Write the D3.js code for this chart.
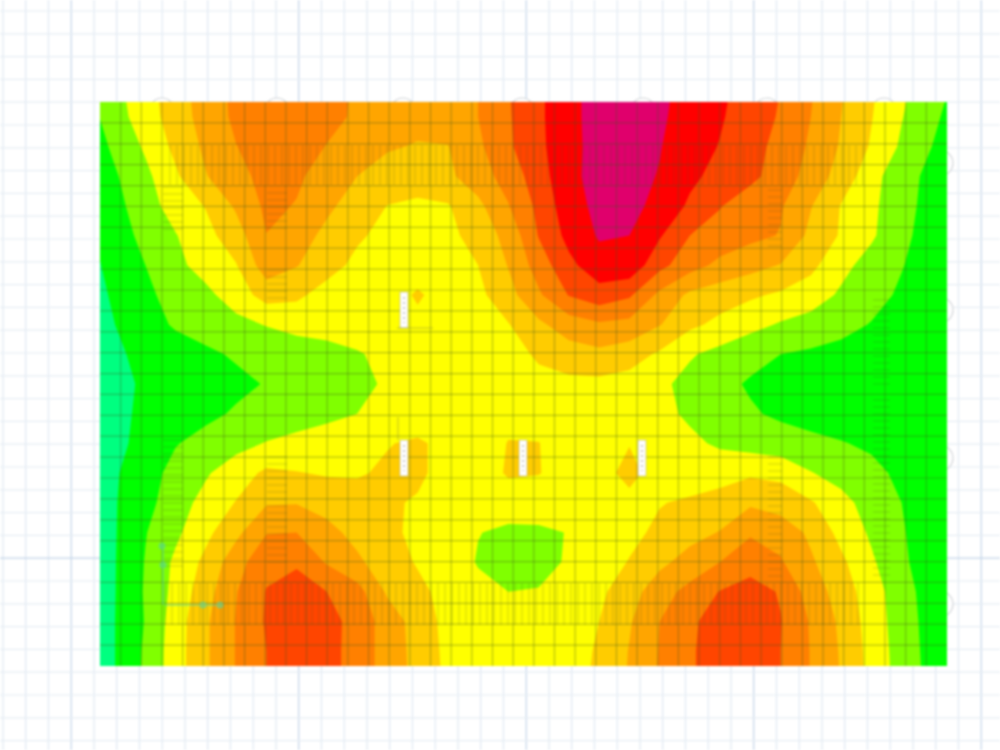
<!DOCTYPE html>
<html>
<head>
<meta charset="utf-8">
<script src="https://cdn.jsdelivr.net/npm/d3@7"></script>
<style>
html,body{margin:0;padding:0;background:#fff;}
svg{display:block;filter:blur(0.9px);}
</style>
</head>
<body>
<svg id="chart" width="1000" height="750"></svg>
<script>
// Stress values. Columns run across the plate, rows run down it.
const row00=[2.3,2.75,3.6,4.6,5.45,6.25,6.65,6.75,6.45,5.85,5.5,5.3,5.5,6.0,6.95,7.8,8.75,9.35,9.55,9.2,8.7,8.2,7.6,7.0,6.1,5.1,4.15,3.2,2.4,1.7];
const row01=[1.45,2.6,3.5,4.5,5.4,6.2,6.6,6.7,6.4,5.8,5.5,5.3,5.5,6.0,6.9,7.8,8.75,9.35,9.5,9.15,8.6,8.1,7.5,6.9,6.0,5.0,4.05,3.05,2.2,1.5];
const row02=[1.3,2.2,3.15,4.25,5.2,5.98,6.4,6.6,5.95,5.5,5.1,4.93,4.97,5.8,6.85,7.75,8.75,9.3,9.4,9.05,8.45,7.95,7.35,6.7,5.85,4.9,3.9,2.85,2.0,1.4];
const row03=[1.1,1.9,2.75,3.85,4.95,5.7,6.3,6.15,5.6,5.0,4.6,4.4,4.8,5.55,6.4,7.55,8.75,9.35,9.3,8.95,8.2,7.7,7.25,6.55,5.6,4.6,3.4,2.3,1.8,1.35];
const row04=[1.1,1.7,2.55,3.45,4.05,5.15,6.2,5.95,5.2,4.55,3.98,3.85,3.92,4.75,5.95,7.25,8.6,9.25,9.35,8.65,7.85,7.05,6.45,6.1,5.05,3.95,3.2,2.4,1.6,1.35];
const row05=[0.8,1.5,2.3,2.95,3.7,4.55,5.98,5.45,4.75,4.15,3.7,3.35,3.7,4.45,5.3,7.05,8.3,9.1,9.0,8.1,7.0,6.6,6.25,5.95,4.75,3.9,3.15,2.25,1.55,1.3];
const row06=[0.65,1.3,2.0,2.75,3.4,3.95,5.55,5.05,4.4,3.75,3.4,3.2,3.5,4.0,5.05,6.45,7.75,8.6,8.7,7.3,6.4,5.75,5.35,4.95,4.25,3.3,2.6,2.05,1.5,1.3];
const row07=[0.5,1.15,1.8,2.35,2.75,3.5,4.4,4.2,3.6,3.35,3.2,4.2,3.3,3.75,4.65,5.85,7.05,7.6,7.15,5.75,4.8,4.45,4.15,3.85,3.5,2.85,2.35,1.85,1.45,1.3];
const row08=[0.4,1.0,1.65,2.1,2.35,2.7,3.05,3.3,3.35,3.3,3.2,3.6,3.2,3.4,3.95,4.8,5.5,5.85,5.7,5.05,4.2,3.75,3.3,2.9,2.6,2.3,1.95,1.75,1.5,1.3];
const row09=[0.3,0.85,1.25,1.6,1.85,2.1,2.3,2.5,2.7,2.95,3.15,3.15,3.15,3.3,3.6,4.15,4.55,4.75,4.45,3.85,3.1,2.7,2.3,2.0,1.85,1.7,1.55,1.45,1.4,1.3];
const row10=[0.2,0.7,1.15,1.4,1.6,1.8,2.05,2.3,2.55,2.8,3.1,3.3,3.45,3.5,3.6,3.7,3.75,3.75,3.6,3.2,2.7,2.25,1.9,1.7,1.5,1.4,1.35,1.3,1.3,1.3];
const row11=[0.3,0.75,1.2,1.5,1.8,2.1,2.35,2.6,2.8,3.0,3.2,3.4,3.55,3.6,3.65,3.65,3.65,3.6,3.5,3.25,2.85,2.45,2.1,1.85,1.7,1.55,1.4,1.3,1.3,1.3];
const row12=[0.35,0.8,1.25,1.95,2.3,2.7,3.05,3.25,3.4,3.55,3.95,4.15,3.7,3.3,4.05,4.02,3.6,3.5,3.95,3.5,3.2,2.85,2.6,2.4,2.2,2.05,1.85,1.4,1.3,1.3];
const row13=[0.6,0.9,1.6,2.3,2.9,3.5,4.2,4.05,3.9,3.9,4.15,4.3,3.4,3.3,4.15,4.05,3.5,3.5,4.4,3.4,3.45,3.6,3.85,3.75,3.05,2.6,2.25,1.8,1.3,1.3];
const row14=[0.7,0.95,1.65,2.6,3.3,4.05,4.9,4.95,4.7,4.45,4.2,3.85,3.4,3.2,3.3,3.3,3.3,3.4,3.6,3.95,4.15,4.4,4.85,4.55,4.1,3.35,2.55,2.0,1.35,1.3];
const row15=[0.7,0.95,1.95,2.8,3.75,4.75,5.95,6.0,5.25,4.75,4.25,3.75,3.3,3.02,2.88,2.9,3.02,3.4,3.75,4.2,4.65,5.05,5.9,5.6,4.8,3.7,2.85,2.1,1.4,1.3];
const row16=[0.72,0.97,2.05,3.2,4.25,5.6,6.7,6.85,5.9,5.15,4.55,3.9,3.4,2.95,2.4,2.4,3.2,3.5,4.05,4.75,5.4,6.0,6.5,6.1,5.15,4.2,3.15,2.2,1.4,1.3];
const row17=[0.75,0.98,2.1,3.3,4.6,5.95,7.05,7.5,7.0,6.4,4.85,4.3,3.6,3.2,3.0,3.1,3.4,3.8,4.55,5.6,6.3,7.05,7.5,6.9,5.55,4.55,3.45,2.45,1.5,1.3];
const row18=[0.75,1.0,2.05,3.5,4.85,6.05,7.1,7.6,7.45,6.55,5.6,4.55,3.7,3.4,3.3,3.4,3.6,4.0,4.9,6.0,6.8,7.5,7.7,7.05,5.9,4.8,3.55,2.5,1.6,1.3];
const row19=[0.75,1.0,2.15,3.55,4.85,6.05,7.0,7.55,7.4,6.55,5.6,4.65,3.75,3.45,3.35,3.45,3.65,4.1,5.05,6.05,6.85,7.6,7.7,7.0,5.95,4.9,3.65,2.55,1.65,1.3];
const row20=[0.75,1.0,2.2,3.55,4.85,6.05,7.0,7.55,7.4,6.55,5.6,4.7,3.8,3.5,3.4,3.5,3.7,4.15,5.1,6.1,6.85,7.6,7.7,7.0,5.95,4.95,3.7,2.6,1.7,1.3];
const valueRows=[row00,row01,row02,row03,row04,row05,row06,row07,row08,row09,row10,row11,row12,row13,row14,row15,row16,row17,row18,row19,row20];

const levels=[1,2,3,4,5,6,7,8,9];
const bandColors=["#00ff80","#00ff00","#80ff00","#ffff00","#ffcc00","#ffa500","#ff8000","#ff4500","#ff0000","#e0006c"];

// Model furniture in page pixels
const topSupports=[162,277,403,522,643,767,884];
const rightSupports=[163,310,458,604];
const pins=[[404,310],[404,458],[523,458],[642,458]];
const denseVerticals=[[170,865,145,185],[165,860,583,625]];
const denseHorizontals=[[163,183,187,230],[267,287,193,230],[267,287,270,300],[768,782,190,250],[873,890,300,390],[163,183,440,573],[267,287,457,567],[768,782,457,580],[873,890,400,580]];

const plot={l:100,r:947,t:102,b:666};
const svg=d3.select("#chart");

// page grid
const minorX=d3.range(3,1000,22.75), minorY=d3.range(11,750,22.8);
const bg=svg.append("g");
bg.selectAll(".gx").data(minorX).join("line").attr("x1",d=>d).attr("x2",d=>d).attr("y1",0).attr("y2",750)
  .attr("stroke",(d,i)=>(i-3)%10===0?"#c2d4e8":"#e0e9f2").attr("stroke-width",1.2);
bg.selectAll(".gy").data(minorY).join("line").attr("y1",d=>d).attr("y2",d=>d).attr("x1",0).attr("x2",1000)
  .attr("stroke",(d,i)=>i===24?"#c2d4e8":"#e6edf4").attr("stroke-width",1.2);

// supports peeking out behind the plate
const sup=svg.append("g").attr("fill","#fff").attr("stroke","#d2d5d8").attr("stroke-width",1.2);
sup.selectAll(".st").data(topSupports).join("circle").attr("cx",d=>d).attr("cy",110).attr("r",12);
sup.selectAll(".sr").data(rightSupports).join("circle").attr("cx",940).attr("cy",d=>d).attr("r",13);

// contour bands
const nx=row00.length, ny=valueRows.length;
const xs=d3.scaleLinear().domain([0,nx]).range([plot.l-(plot.r-plot.l)/28,plot.r+(plot.r-plot.l)/28]);
const ys=d3.scaleLinear().domain([0,ny]).range([plot.t-(plot.b-plot.t)/19,plot.b+(plot.b-plot.t)/19]);
const colorOf=d3.scaleThreshold().domain(levels).range(bandColors);
const contours=d3.contours().size([nx,ny]).thresholds(levels).smooth(true)(valueRows.flat());
const path=d3.geoPath(d3.geoTransform({point(x,y){this.stream.point(xs(x),ys(y));}}));
svg.append("clipPath").attr("id","plate").append("rect")
  .attr("x",plot.l).attr("y",plot.t).attr("width",plot.r-plot.l).attr("height",plot.b-plot.t);
const plate=svg.append("g").attr("clip-path","url(#plate)");
plate.append("rect").attr("x",plot.l).attr("y",plot.t).attr("width",plot.r-plot.l).attr("height",plot.b-plot.t).attr("fill",bandColors[0]);
plate.selectAll("path.band").data(contours).join("path").attr("class","band")
  .attr("d",path).attr("fill",d=>colorOf(d.value));

// mesh
const mesh=svg.append("g").attr("stroke","#3c5a1e").attr("stroke-opacity",0.36).attr("stroke-width",1.2);
const meshX=d3.range(1,41).map(i=>plot.l+i*(plot.r-plot.l)/41);
const meshY=d3.range(1,27).map(i=>plot.t+i*(plot.b-plot.t)/27);
mesh.selectAll(".mx").data(meshX).join("line").attr("x1",d=>d).attr("x2",d=>d).attr("y1",plot.t).attr("y2",plot.b);
mesh.selectAll(".my").data(meshY).join("line").attr("y1",d=>d).attr("y2",d=>d).attr("x1",plot.l).attr("x2",plot.r);
denseVerticals.forEach(([a,b,t,e])=>{
  mesh.append("g").selectAll("line").data(d3.range(a,b,7)).join("line")
    .attr("x1",d=>d).attr("x2",d=>d).attr("y1",t).attr("y2",e).attr("stroke-opacity",0.2);
});
denseHorizontals.forEach(([a,b,t,e])=>{
  mesh.append("g").selectAll("line").data(d3.range(t,e,7)).join("line")
    .attr("x1",a).attr("x2",b).attr("y1",d=>d).attr("y2",d=>d).attr("stroke-opacity",0.2);
});

// axis marker
const ax=svg.append("g").attr("stroke","#55d8a0").attr("fill","#55d8a0").attr("opacity",0.6);
ax.append("line").attr("x1",165).attr("x2",222).attr("y1",605).attr("y2",605).attr("stroke-width",1.5);
ax.append("line").attr("x1",163).attr("x2",163).attr("y1",605).attr("y2",545).attr("stroke-width",1.5);
ax.selectAll("circle").data([[203,605],[220,605],[162,546],[163,565]]).join("circle")
  .attr("cx",d=>d[0]).attr("cy",d=>d[1]).attr("r",3.5).attr("stroke","none");

// columns
const pin=svg.append("g");
pin.selectAll("rect").data(pins).join("rect").attr("x",d=>d[0]-4).attr("y",d=>d[1]-18).attr("width",8).attr("height",36)
  .attr("fill","#fff").attr("stroke","#b9b28a").attr("stroke-width",0.6);
pin.selectAll("line").data(pins).join("line").attr("x1",d=>d[0]).attr("x2",d=>d[0]).attr("y1",d=>d[1]-13).attr("y2",d=>d[1]+13)
  .attr("stroke","#bbb").attr("stroke-width",1.5).attr("stroke-dasharray","2 3");
pin.append("line").attr("x1",397).attr("x2",433).attr("y1",328).attr("y2",328).attr("stroke","#8a8a40").attr("stroke-opacity",0.5);
pin.append("line").attr("x1",398).attr("x2",398).attr("y1",417).attr("y2",440).attr("stroke","#8a8a40").attr("stroke-opacity",0.5);
</script>
</body>
</html>
